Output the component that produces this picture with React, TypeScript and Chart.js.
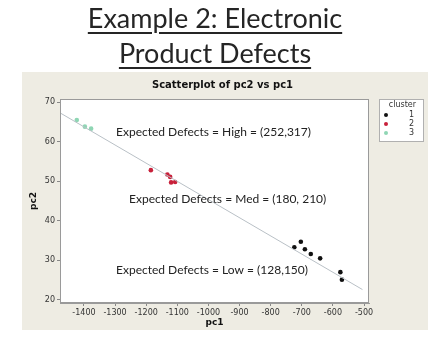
import React, { useEffect, useRef } from "react";
import { Chart, registerables } from "chart.js";

Chart.register(...registerables);

// ---- data ----
const cluster1X = [-724, -703, -690, -671, -641, -576, -571];
const cluster1Y = [33.3, 34.7, 32.8, 31.6, 30.5, 27.0, 25.1];
const cluster2X = [-1185, -1132, -1123, -1120, -1107];
const cluster2Y = [52.8, 51.7, 51.1, 49.7, 49.8];
const cluster3X = [-1423, -1397, -1377];
const cluster3Y = [65.5, 63.8, 63.3];
const fitX = [-1477, -505];
const fitY = [67.3, 22.6];
const clusterNames = ["1", "2", "3"];
const xTicks = [-1400, -1300, -1200, -1100, -1000, -900, -800, -700, -600, -500];
const yTicks = [20, 30, 40, 50, 60, 70];
const xRange = [-1477, -484];
const yRange = [19.2, 70.8];
const annotationTexts = [
  "Expected Defects = High = (252,317)",
  "Expected Defects = Med = (180, 210)",
  "Expected Defects = Low = (128,150)",
];
const annotationX = [-1297, -1255, -1297];
const annotationY = [62.4, 45.5, 27.6];
const headingLines = ["Example 2: Electronic", "Product Defects"];
const chartTitle = "Scatterplot of pc2 vs pc1";
const legendTitle = "cluster";

const clusterColors = ["#111111", "#c8203a", "#8fd6b4"];
const PANEL = "#eeece3";

const toPoints = (xs: number[], ys: number[]) => xs.map((x, i) => ({ x, y: ys[i] }));

const decorPlugin = {
  id: "decor",
  beforeDraw(chart: any) {
    const ctx = chart.ctx;
    const a = chart.chartArea;
    ctx.save();
    ctx.fillStyle = PANEL;
    ctx.fillRect(22, 72, 406, 258);
    ctx.fillStyle = "#ffffff";
    ctx.fillRect(a.left, a.top, a.right - a.left, a.bottom - a.top);
    ctx.restore();
  },
  afterDraw(chart: any) {
    const ctx = chart.ctx;
    const a = chart.chartArea;
    const xs = chart.scales.x;
    const ys = chart.scales.y;
    ctx.save();
    // plot border
    ctx.strokeStyle = "#9a9a9a";
    ctx.lineWidth = 1;
    ctx.strokeRect(a.left + 0.5, a.top + 0.5, a.right - a.left - 1, a.bottom - a.top - 1);
    // chart title
    ctx.fillStyle = "#111";
    ctx.font = "bold 10px 'DejaVu Sans'";
    ctx.textAlign = "center";
    ctx.textBaseline = "middle";
    ctx.fillText(chartTitle, (a.left + a.right) / 2 + 8, 85);
    // axis titles
    ctx.font = "bold 9px 'DejaVu Sans'";
    ctx.fillText("pc1", (a.left + a.right) / 2, 323);
    ctx.save();
    ctx.translate(34, (a.top + a.bottom) / 2);
    ctx.rotate(-Math.PI / 2);
    ctx.fillText("pc2", 0, 0);
    ctx.restore();
    // annotations
    ctx.font = "12px Lato";
    ctx.fillStyle = "#222";
    ctx.textAlign = "left";
    annotationTexts.forEach((t, i) => {
      ctx.fillText(t, xs.getPixelForValue(annotationX[i]), ys.getPixelForValue(annotationY[i]));
    });
    // legend
    const lx = 379, ly = 99, lw = 45, lh = 43;
    ctx.fillStyle = "#ffffff";
    ctx.fillRect(lx, ly, lw, lh);
    ctx.strokeStyle = "#b0b0b0";
    ctx.strokeRect(lx + 0.5, ly + 0.5, lw - 1, lh - 1);
    ctx.fillStyle = "#333";
    ctx.font = "8px 'DejaVu Sans'";
    ctx.textAlign = "right";
    ctx.fillText(legendTitle, lx + 37, ly + 6);
    clusterNames.forEach((n, i) => {
      const yy = ly + 16 + i * 9;
      ctx.fillStyle = clusterColors[i];
      ctx.beginPath();
      ctx.arc(lx + 7, yy, 2, 0, Math.PI * 2);
      ctx.fill();
      ctx.fillStyle = "#333";
      ctx.fillText(n, lx + 35, yy);
    });
    ctx.restore();
  },
};

export default function App() {
  const ref = useRef<HTMLCanvasElement>(null);
  useEffect(() => {
    if (!ref.current) return;
    const tickFont = { family: "'DejaVu Sans'", size: 8 };
    const plain = (v: any) => String(v);
    const chart = new Chart(ref.current, {
      type: "scatter",
      data: {
        datasets: [
          {
            label: "fit",
            data: toPoints(fitX, fitY),
            showLine: true,
            borderColor: "#b9c0c6",
            borderWidth: 1,
            pointRadius: 0,
          },
          ...[
            [cluster1X, cluster1Y],
            [cluster2X, cluster2Y],
            [cluster3X, cluster3Y],
          ].map(([xs, ys], i) => ({
            label: clusterNames[i],
            data: toPoints(xs, ys),
            backgroundColor: clusterColors[i],
            borderColor: clusterColors[i],
            pointRadius: 2.3,
            borderWidth: 0,
          })),
        ],
      },
      options: {
        animation: false,
        responsive: false,
        devicePixelRatio: 1,
        layout: { padding: { left: 22, right: 74, top: 99, bottom: 0 } },
        plugins: { legend: { display: false }, title: { display: false }, tooltip: { enabled: false } },
        scales: {
          x: {
            type: "linear",
            min: xRange[0],
            max: xRange[1],
            afterBuildTicks: (s: any) => {
              s.ticks = xTicks.map((v) => ({ value: v }));
            },
            afterFit: (s: any) => {
              s.height = 37;
            },
            grid: { drawOnChartArea: false, color: "#888", tickLength: 3 },
            border: { color: "#9a9a9a" },
            ticks: { font: tickFont, color: "#333", padding: 2, maxRotation: 0, autoSkip: false, callback: plain },
          },
          y: {
            type: "linear",
            min: yRange[0],
            max: yRange[1],
            afterBuildTicks: (s: any) => {
              s.ticks = yTicks.map((v) => ({ value: v }));
            },
            afterFit: (s: any) => {
              s.width = 38;
            },
            grid: { drawOnChartArea: false, color: "#888", tickLength: 3 },
            border: { color: "#9a9a9a" },
            ticks: { font: tickFont, color: "#333", padding: 2, callback: plain },
          },
        },
      },
      plugins: [decorPlugin],
    } as any);
    return () => chart.destroy();
  }, []);

  const headingStyle: React.CSSProperties = {
    position: "absolute",
    left: 0,
    width: 430,
    textAlign: "center",
    fontFamily: "Lato, 'Open Sans', sans-serif",
    fontSize: 27,
    lineHeight: "34px",
    color: "#252525",
    textDecoration: "underline",
    textDecorationThickness: "2px",
    textUnderlineOffset: "4px",
    whiteSpace: "nowrap",
  };

  return (
    <div style={{ position: "absolute", left: 0, top: 0, width: 443, height: 340, background: "#fff" }}>
      <canvas ref={ref} width={443} height={340} style={{ position: "absolute", left: 0, top: 0 }} />
      <div style={{ ...headingStyle, top: 1 }}>{headingLines[0]}</div>
      <div style={{ ...headingStyle, top: 36 }}>{headingLines[1]}</div>
    </div>
  );
}
